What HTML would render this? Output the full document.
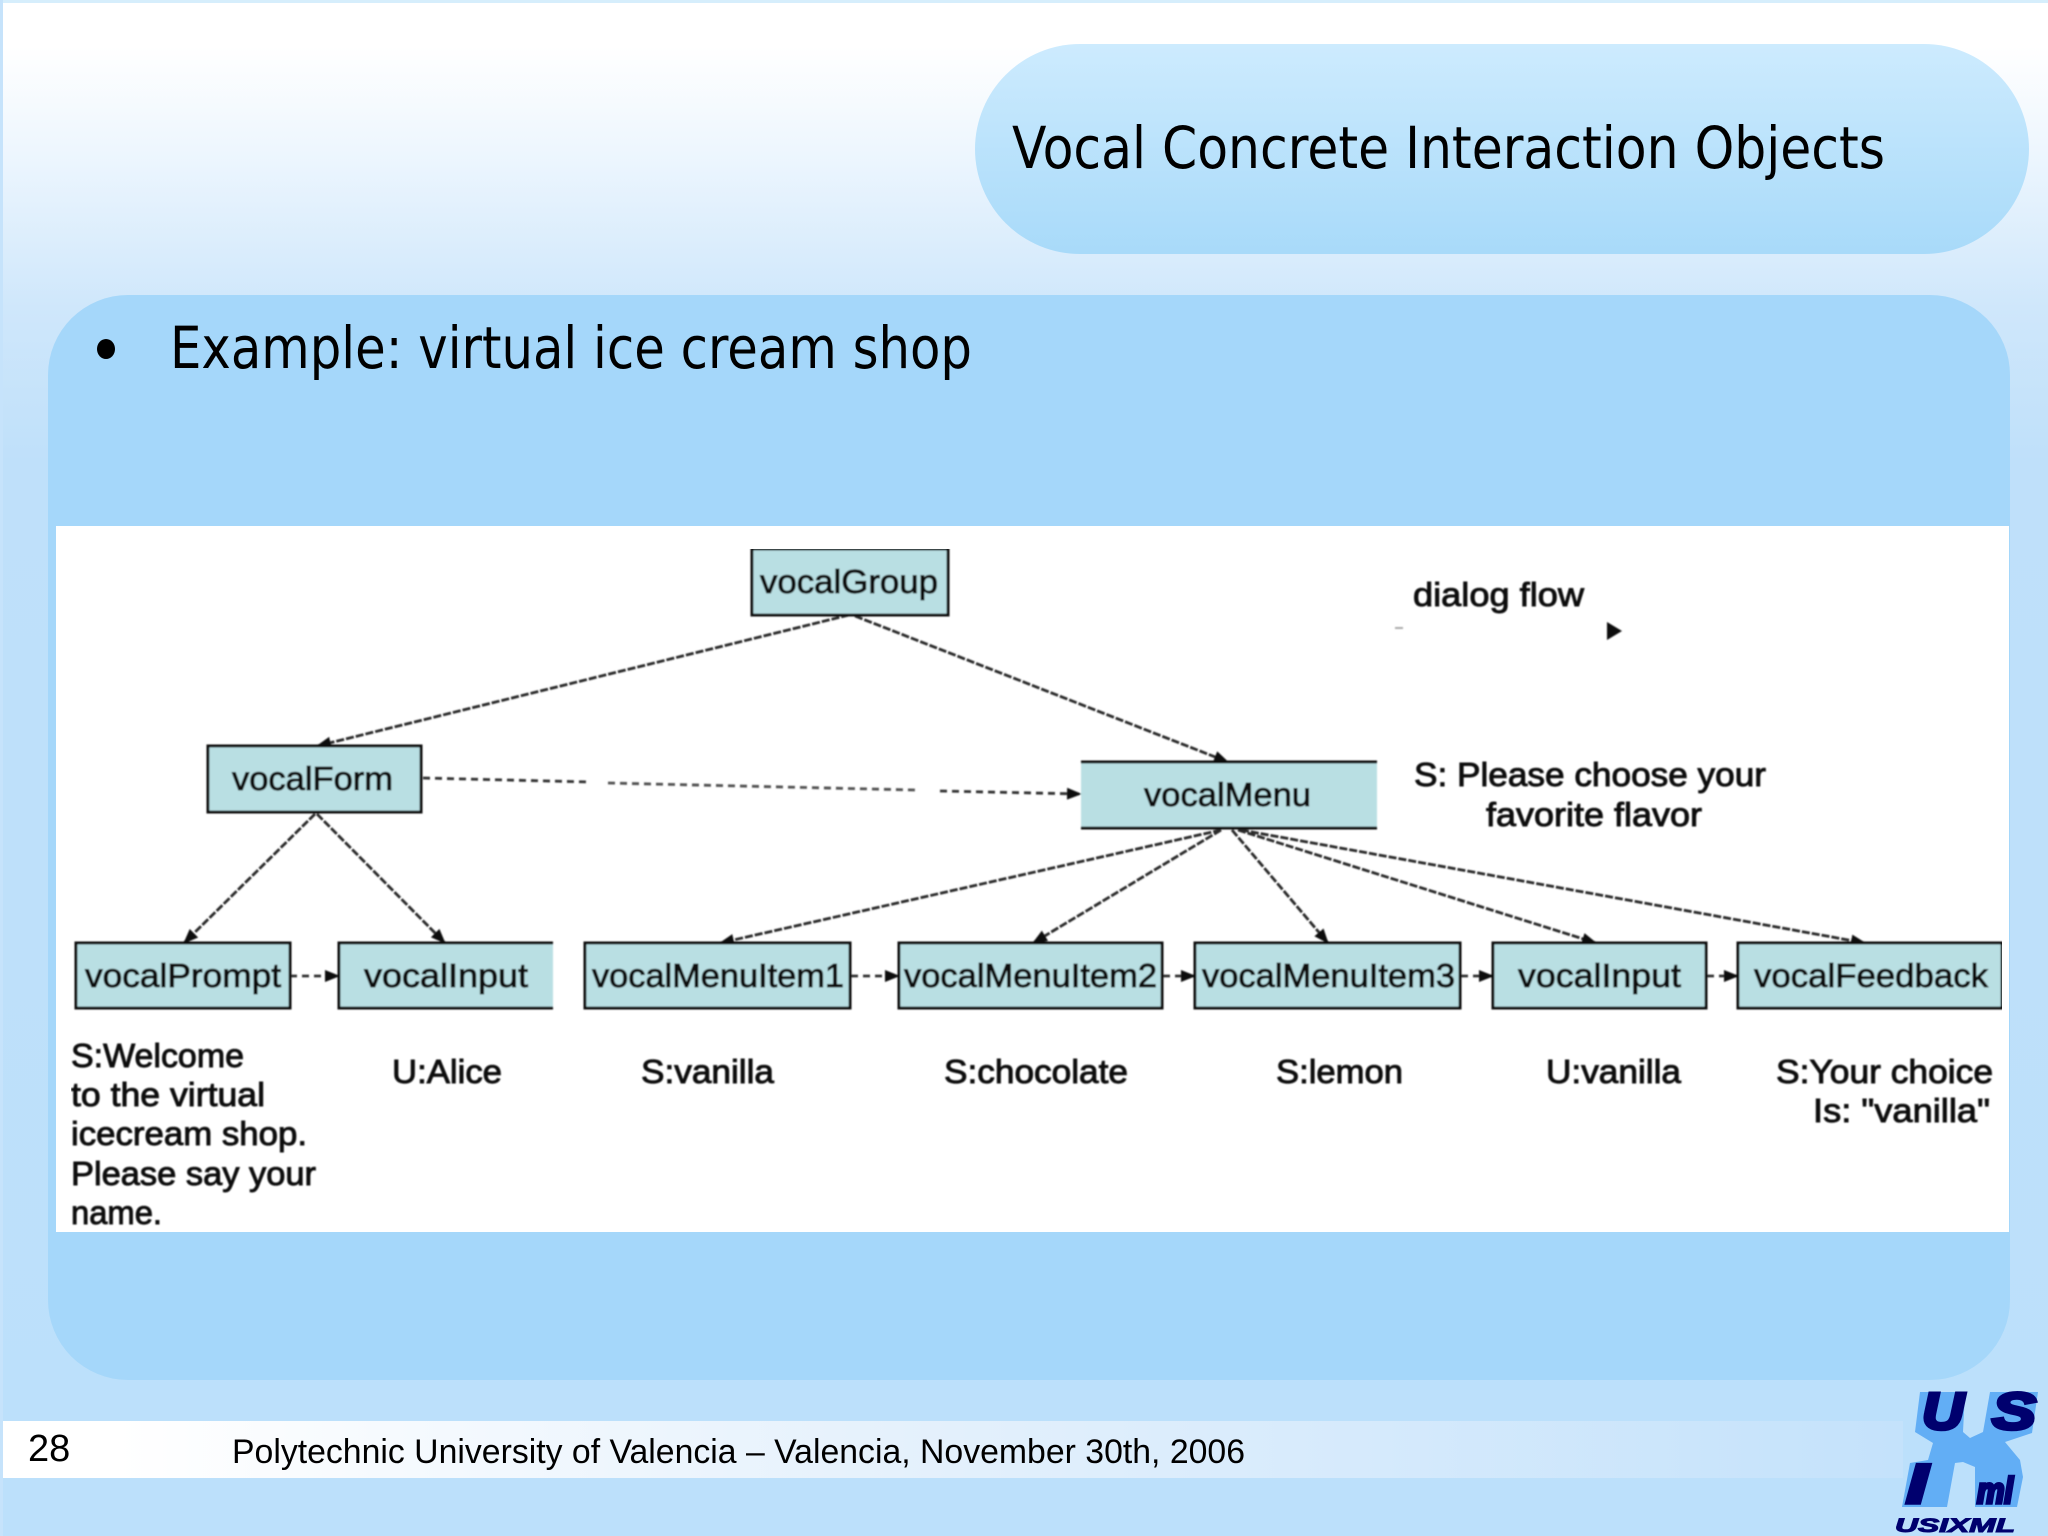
<!DOCTYPE html>
<html><head><meta charset="utf-8">
<style>
html,body{margin:0;padding:0;width:2048px;height:1536px;overflow:hidden;background:#bddffb}
svg{display:block}
.t{font-family:"DejaVu Sans",sans-serif;font-size:58px;fill:#000}
.l{font-family:"Liberation Sans",sans-serif;font-size:33px;fill:#111;stroke:#111;stroke-width:.9}
.f{font-family:"Liberation Sans",sans-serif;fill:#000}
.b{fill:#b9dfe3;stroke:#111;stroke-width:3}
.c{stroke:#2a2a2a;stroke-width:2.8;fill:none;stroke-dasharray:8 2;marker-end:url(#a)}
.d{stroke:#333;stroke-width:2.8;fill:none;stroke-dasharray:7 5}
.k{font-family:"Liberation Sans",sans-serif;font-weight:bold;font-style:italic;fill:#00006e;stroke:#00006e;stroke-width:3.5}
</style></head><body>
<svg width="2048" height="1536" viewBox="0 0 2048 1536" xmlns="http://www.w3.org/2000/svg">
<defs>
<linearGradient id="bg" x1="0" y1="0" x2="0" y2="1">
<stop offset="0" stop-color="#ffffff"/><stop offset=".03" stop-color="#ffffff"/><stop offset=".1" stop-color="#edf6fe"/><stop offset=".2" stop-color="#cfe7fb"/><stop offset=".3" stop-color="#bfe0fa"/><stop offset="1" stop-color="#bce0fb"/>
</linearGradient>
<linearGradient id="ti" x1="0" y1="0" x2="0" y2="1">
<stop offset="0" stop-color="#cdebfe"/><stop offset="1" stop-color="#a8daf9"/>
</linearGradient>
<linearGradient id="ft" x1="0" y1="0" x2="1" y2="0">
<stop offset="0" stop-color="#ffffff"/><stop offset=".06" stop-color="#ffffff"/><stop offset=".5" stop-color="#e3f0fc"/><stop offset="1" stop-color="#c4e2fb"/>
</linearGradient>
<marker id="a" markerUnits="userSpaceOnUse" markerWidth="16" markerHeight="14" refX="14" refY="7" orient="auto">
<path d="M0 1 L15 7 L0 13 Z" fill="#111"/>
</marker>
<filter id="s" x="0" y="0" width="100%" height="100%"><feGaussianBlur stdDeviation="0.7"/></filter>
</defs>
<rect width="2048" height="1536" fill="url(#bg)"/>
<rect width="2048" height="3" fill="#d6eefc"/>
<rect width="3" height="1536" fill="#c6e3fb"/>
<rect x="975" y="44" width="1054" height="210" rx="105" ry="105" fill="url(#ti)"/>
<text class="t" x="1012" y="168" textLength="873" lengthAdjust="spacingAndGlyphs">Vocal Concrete Interaction Objects</text>
<rect x="48" y="295" width="1962" height="1085" rx="80" ry="80" fill="#a5d7fa"/>
<ellipse cx="106" cy="349" rx="9" ry="10" fill="#000"/>
<text class="t" x="170" y="368" textLength="802" lengthAdjust="spacingAndGlyphs">Example: virtual ice cream shop</text>
<rect x="56" y="526" width="1953" height="706" fill="#fff"/>

<g filter="url(#s)">
<line class="c" x1="849" y1="615" x2="317" y2="746"/>
<line class="c" x1="855" y1="616" x2="1228" y2="762"/>
<line class="d" x1="423" y1="778" x2="590" y2="782"/>
<line class="d" x1="608" y1="783" x2="915" y2="790" stroke-opacity=".85"/>
<line class="d" x1="940" y1="791" x2="1081" y2="794" style="marker-end:url(#a)"/>
<line class="c" x1="315" y1="814" x2="184" y2="943"/>
<line class="c" x1="317" y1="814" x2="445" y2="943"/>
<line class="c" x1="1221" y1="830" x2="720" y2="943"/>
<line class="c" x1="1221" y1="830" x2="1033" y2="943"/>
<line class="c" x1="1232" y1="830" x2="1328" y2="943"/>
<line class="c" x1="1238" y1="830" x2="1596" y2="943"/>
<line class="c" x1="1241" y1="830" x2="1865" y2="943"/>
<line class="d" x1="290" y1="976" x2="339" y2="976" style="marker-end:url(#a)"/>
<line class="d" x1="851" y1="976" x2="899" y2="976" style="marker-end:url(#a)"/>
<line class="d" x1="1163" y1="976" x2="1195" y2="976" style="marker-end:url(#a)"/>
<line class="d" x1="1461" y1="976" x2="1493" y2="976" style="marker-end:url(#a)"/>
<line class="d" x1="1707" y1="976" x2="1738" y2="976" style="marker-end:url(#a)"/>

<rect class="b" x="752" y="549" width="196" height="66"/>
<rect class="b" x="208" y="746" width="213" height="66"/>
<rect x="1081" y="762" width="296" height="66" fill="#b9dfe3"/>
<path d="M1081 762H1377M1081 828H1377" stroke="#111" stroke-width="3"/>
<rect class="b" x="76" y="943" width="214" height="65"/>
<rect x="339" y="943" width="214" height="65" fill="#b9dfe3"/>
<path d="M553 943H339V1008H553" fill="none" stroke="#111" stroke-width="3"/>
<rect class="b" x="585" y="943" width="265" height="65"/>
<rect class="b" x="899" y="943" width="263" height="65"/>
<rect class="b" x="1195" y="943" width="265" height="65"/>
<rect class="b" x="1493" y="943" width="213" height="65"/>
<rect class="b" x="1738" y="943" width="264" height="65"/>

<text class="l" x="760" y="593" textLength="178" lengthAdjust="spacingAndGlyphs">vocalGroup</text>
<text class="l" x="232" y="790" textLength="161" lengthAdjust="spacingAndGlyphs">vocalForm</text>
<text class="l" x="1144" y="806" textLength="167" lengthAdjust="spacingAndGlyphs">vocalMenu</text>
<text class="l" x="85" y="987" textLength="196" lengthAdjust="spacingAndGlyphs">vocalPrompt</text>
<text class="l" x="364" y="987" textLength="164" lengthAdjust="spacingAndGlyphs">vocalInput</text>
<text class="l" x="592" y="987" textLength="252" lengthAdjust="spacingAndGlyphs">vocalMenuItem1</text>
<text class="l" x="904" y="987" textLength="253" lengthAdjust="spacingAndGlyphs">vocalMenuItem2</text>
<text class="l" x="1202" y="987" textLength="253" lengthAdjust="spacingAndGlyphs">vocalMenuItem3</text>
<text class="l" x="1518" y="987" textLength="163" lengthAdjust="spacingAndGlyphs">vocalInput</text>
<text class="l" x="1754" y="987" textLength="234" lengthAdjust="spacingAndGlyphs">vocalFeedback</text>

<text class="l" x="1413" y="606" textLength="171" lengthAdjust="spacingAndGlyphs">dialog flow</text>
<text class="l" x="1414" y="786" textLength="352" lengthAdjust="spacingAndGlyphs">S: Please choose your</text>
<text class="l" x="1486" y="826" textLength="216" lengthAdjust="spacingAndGlyphs">favorite flavor</text>

<text class="l" x="71" y="1067" textLength="173" lengthAdjust="spacingAndGlyphs">S:Welcome</text>
<text class="l" x="71" y="1106" textLength="194" lengthAdjust="spacingAndGlyphs">to the virtual</text>
<text class="l" x="71" y="1145" textLength="236" lengthAdjust="spacingAndGlyphs">icecream shop.</text>
<text class="l" x="71" y="1185" textLength="245" lengthAdjust="spacingAndGlyphs">Please say your</text>
<text class="l" x="71" y="1224" textLength="91" lengthAdjust="spacingAndGlyphs">name.</text>

<text class="l" x="392" y="1083" textLength="110" lengthAdjust="spacingAndGlyphs">U:Alice</text>
<text class="l" x="641" y="1083" textLength="133" lengthAdjust="spacingAndGlyphs">S:vanilla</text>
<text class="l" x="944" y="1083" textLength="184" lengthAdjust="spacingAndGlyphs">S:chocolate</text>
<text class="l" x="1276" y="1083" textLength="127" lengthAdjust="spacingAndGlyphs">S:lemon</text>
<text class="l" x="1546" y="1083" textLength="135" lengthAdjust="spacingAndGlyphs">U:vanilla</text>
<text class="l" x="1776" y="1083" textLength="217" lengthAdjust="spacingAndGlyphs">S:Your choice</text>
<text class="l" x="1813" y="1122" textLength="177" lengthAdjust="spacingAndGlyphs">Is: "vanilla"</text>
<rect x="1395" y="627" width="8" height="2" fill="#aaa"/>
<path d="M1607 622 L1622 631 L1607 640 Z" fill="#111"/>
</g>

<rect x="3" y="1421" width="1900" height="57" fill="url(#ft)"/>
<text class="f" x="28" y="1461" font-size="38">28</text>
<text class="f" x="232" y="1463" font-size="34" textLength="1013" lengthAdjust="spacingAndGlyphs">Polytechnic University of Valencia – Valencia, November 30th, 2006</text>

<path d="M1920 1392H1965L1963 1432L1970 1438L1983 1432L1990 1392H2038L2032 1433L2005 1442L2020 1460L2023 1477L2017 1507H1975V1467L1963 1462L1955 1463L1947 1507H1902L1910 1463L1928 1460L1933 1443L1915 1432Z" fill="#62aef5"/>
<text class="k" x="1922" y="1429" font-size="52" textLength="42" lengthAdjust="spacingAndGlyphs">U</text>
<text class="k" x="1992" y="1429" font-size="52" textLength="44" lengthAdjust="spacingAndGlyphs">S</text>
<text class="k" x="1906" y="1503" font-size="56" textLength="22" lengthAdjust="spacingAndGlyphs">I</text>
<text class="k" x="1977" y="1503" font-size="36" textLength="36" lengthAdjust="spacingAndGlyphs">ml</text>
<text class="k" x="1895" y="1532" font-size="19" textLength="120" lengthAdjust="spacingAndGlyphs" style="stroke-width:1">USIXML</text>
</svg>
</body></html>
